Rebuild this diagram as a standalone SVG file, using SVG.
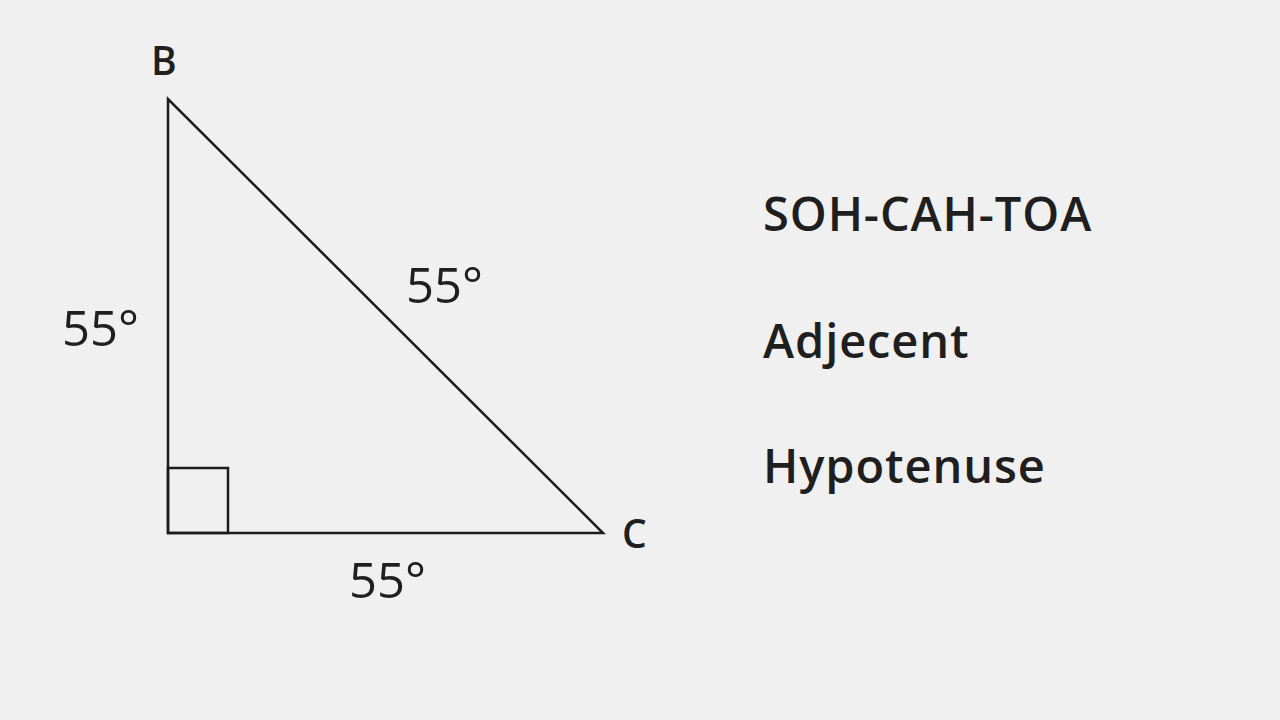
<svg xmlns="http://www.w3.org/2000/svg" width="1280" height="720" viewBox="0 0 1280 720">
<style>
.ln{fill:none;stroke:#1c1c1c;stroke-width:2.5;stroke-linejoin:miter}
.t{font-family:"Open Sans","Liberation Sans",sans-serif;fill:#1f1f1f;font-weight:500}
.v{font-weight:600;font-size:39px}
.n{font-weight:600;font-size:47px;letter-spacing:0.9px}
</style>
<rect width="1280" height="720" fill="#f0f0f0"/>
<g id="triangle">
<polygon class="ln" points="168,99 168,533 603,533"/>
<rect class="ln" x="168" y="468" width="60" height="65"/>
</g>
<g id="vertex-B"><text class="t v" x="151" y="75">B</text></g>
<g id="vertex-C"><text class="t v" x="622" y="548">C</text></g>
<g id="label-left"><text class="t" x="62" y="346" font-size="49">55°</text></g>
<g id="label-hyp"><text class="t" x="406" y="303" font-size="49">55°</text></g>
<g id="label-bottom"><text class="t" x="349" y="598" font-size="49">55°</text></g>
<g id="notes">
<text class="t n" x="763" y="231">SOH-CAH-TOA</text>
<text class="t n" x="763" y="358">Adjecent</text>
<text class="t n" x="763" y="483">Hypotenuse</text>
</g>
</svg>
